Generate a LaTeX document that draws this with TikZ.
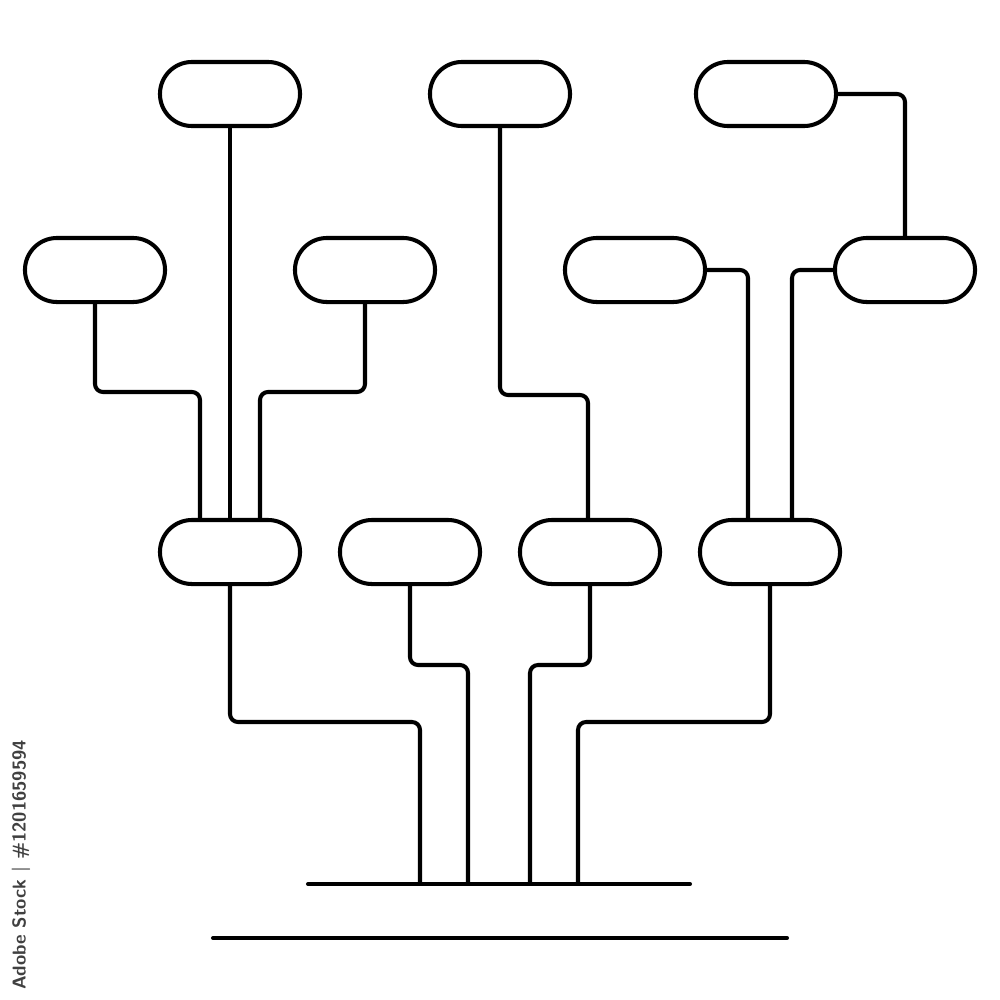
\documentclass[tikz,border=0pt]{standalone}
\usepackage{tikz}
\usepackage{amsmath}

\begin{document}
\begin{tikzpicture}[x=0.01cm, y=-0.01cm,
        box/.style={draw, line width=1.15pt, rectangle, rounded corners=0.32cm,
            minimum width=1.40cm, minimum height=0.64cm, inner sep=0pt},
        link/.style={line width=1.15pt, rounded corners=0.08cm},
        base/.style={line width=1.15pt, line cap=round}]
        \useasboundingbox (0,0) rectangle (1000,1000);
        % boxes
        \node[box] (t1) at (230,94) {};
        \node[box] (t2) at (500,94) {};
        \node[box] (t3) at (766,94) {};
        \node[box] (m1) at (95,270) {};
        \node[box] (m2) at (365,270) {};
        \node[box] (m3) at (635,270) {};
        \node[box] (m4) at (905,270) {};
        \node[box] (b1) at (230,552) {};
        \node[box] (b2) at (410,552) {};
        \node[box] (b3) at (590,552) {};
        \node[box] (b4) at (770,552) {};
        % ground
        \coordinate (gl) at (308,884);
        \coordinate (gr) at (690,884);
        \coordinate (fl) at (213,938);
        \coordinate (fr) at (787,938);
        \draw[base] (gl) -- (gr);
        \draw[base] (fl) -- (fr);
        % links
        \draw[link] (t1.south) -- (b1.north);
        \draw[link] (m1.south) |- (200,392) -- (200,392 |- b1.north);
        \draw[link] (m2.south) |- (260,392) -- (260,392 |- b1.north);
        \draw[link] (t2.south) |- (588,395) -- (588,395 |- b3.north);
        \draw[link] (t3.east) -| (m4.north);
        \draw[link] (m3.east) -| (748,270 |- b4.north);
        \draw[link] (m4.west) -| (792,270 |- b4.north);
        \draw[link] (b1.south) |- (420,722) -- (420,722 |- gl);
        \draw[link] (b2.south) |- (468,665) -- (468,665 |- gl);
        \draw[link] (b3.south) |- (530,665) -- (530,665 |- gl);
        \draw[link] (b4.south) |- (578,722) -- (578,722 |- gl);
        % id
        \node[rotate=90, anchor=west, inner sep=0pt, text=black!75,
            font=\sffamily\bfseries\fontsize{5.3}{6}\selectfont] (id) at (21,990)
            {Adobe Stock | \#1201659594};
    \end{tikzpicture}
\end{document}
